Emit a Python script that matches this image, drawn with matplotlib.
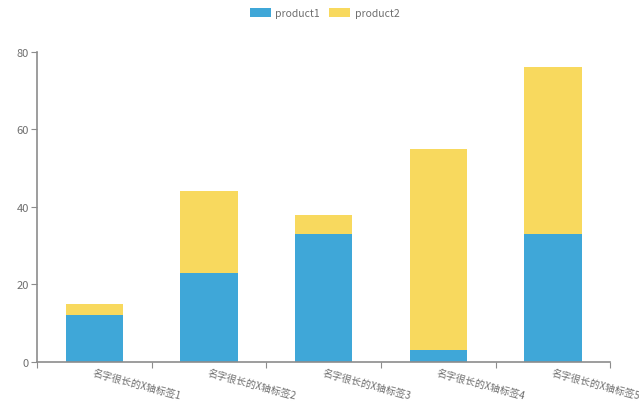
import numpy as np
import matplotlib.pyplot as plt

# Data
categories = ['名字很长的X轴标签1', '名字很长的X轴标签2', '名字很长的X轴标签3',
              '名字很长的X轴标签4', '名字很长的X轴标签5']
product1 = [12, 23, 33, 3, 33]
product2 = [3, 21, 5, 52, 43]

plt.rcParams['font.family'] = ['Noto Sans CJK SC', 'DejaVu Sans']

blue = '#3fa7d8'
yellow = '#f8d95e'
axis_color = '#8c8c8c'
text_color = '#6e6e6e'

fig = plt.figure(figsize=(6.39, 4.06), dpi=100)
ax = fig.add_axes([0.058, 0.106, 0.897, 0.764])

x = np.arange(len(categories))
ax.bar(x, product1, width=0.5, color=blue, label='product1')
ax.bar(x, product2, width=0.5, bottom=product1, color=yellow, label='product2')

ax.set_xlim(-0.5, len(categories) - 0.5)
ax.set_ylim(0, 80)
ax.set_yticks([0, 20, 40, 60, 80])

# x ticks at band boundaries, labels at band centres
ax.set_xticks(np.arange(len(categories) + 1) - 0.5)
ax.set_xticklabels([])
ax.set_xticks(x, minor=True)
ax.set_xticklabels(categories, minor=True, rotation=-15, ha='left',
                   rotation_mode='anchor', fontsize=7.2, color=text_color)
ax.tick_params(axis='x', which='minor', length=0, pad=4)
ax.tick_params(axis='x', which='major', length=4, color=axis_color)
ax.tick_params(axis='y', length=4, color=axis_color, labelcolor=text_color,
               labelsize=8, pad=2)

for side in ['top', 'right']:
    ax.spines[side].set_visible(False)
for side in ['left', 'bottom']:
    ax.spines[side].set_color(axis_color)
    ax.spines[side].set_linewidth(1.2)

# Legend at top
leg = fig.legend(loc='upper center', bbox_to_anchor=(0.508, 1.0), ncol=2,
                 frameon=False, fontsize=7.5, handlelength=2.0, handleheight=0.9,
                 columnspacing=0.9, handletextpad=0.45)
for t in leg.get_texts():
    t.set_color(text_color)

plt.savefig('out.png', dpi=100)
